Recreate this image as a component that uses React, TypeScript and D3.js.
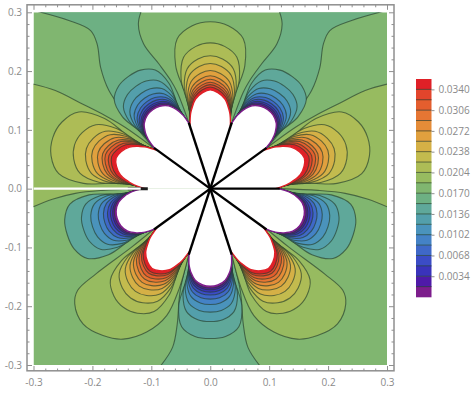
import React, { useEffect, useRef } from 'react';
import * as d3 from 'd3';

type Pt = [number, number];

// band colours, lowest to highest, one per 0.0017 step
const bandColors = [
  '#7d1d8c', '#4f1aa8', '#3a33bb', '#3b4cc6', '#3f68c8', '#4482c6', '#4a93bc',
  '#539fab', '#5fa89a', '#6db083', '#80b670', '#97bb60', '#adbc56', '#c3bb4e',
  '#d5b046', '#e0a03e', '#e58c38', '#e67633', '#e45e2e', '#e2452c', '#df2027',
];
const levelStep = 0.0017;
const colorbarTicks = [0.034, 0.0306, 0.0272, 0.0238, 0.0204, 0.017, 0.0136, 0.0102, 0.0068, 0.0034];
const majorTicks = [-0.3, -0.2, -0.1, 0, 0.1, 0.2, 0.3];
const minorTicks = [-0.28, -0.26, -0.24, -0.22, -0.18, -0.16, -0.14, -0.12, -0.08, -0.06, -0.04, -0.02,
  0.02, 0.04, 0.06, 0.08, 0.12, 0.14, 0.16, 0.18, 0.22, 0.24, 0.26, 0.28];

// lobe directions in degrees
const topRedLobe = [90];
const sideRedLobes = [18, 162];
const lowerRedLobes = [-54, -126];
const upperBlueLobes = [54, 126];
const lowerBlueLobes = [-18, -90, -162];
const spokeAngles = [72, 36, 0, -36, -72, -108, -144, 144, 108];

// contour radius along the lobe axis, one per level
const topRedRadii = [0.284, 0.248, 0.226, 0.213, 0.201, 0.192, 0.186, 0.181, 0.177, 0.173]; // from band 11
const sideRedRadii = [0.281, 0.242, 0.221, 0.21, 0.2, 0.192, 0.187, 0.181, 0.176]; // from band 12
const lowerRedRadii = [0.25, 0.23, 0.216, 0.205, 0.197, 0.19, 0.184, 0.178, 0.174]; // from band 12
const upperBlueRadii = [0.236, 0.215, 0.2, 0.19, 0.183, 0.178, 0.174, 0.171, 0.168]; // from band 8 down
const lowerBlueRadii = [0.255, 0.226, 0.21, 0.197, 0.188, 0.181, 0.176, 0.172, 0.169]; // from band 8 down

// half a white hole from tip to cusp: degrees off axis, fraction of the tip radius
const holeAngle = [0, 4.5, 9.3, 13, 14.5, 15.8, 18];
const redHoleFraction = [1, 0.975, 0.918, 0.83, 0.79, 0.745, 0.66];
const blueHoleFraction = [1, 0.99, 0.95, 0.88, 0.84, 0.8, 0.7];
// how far a contour stands off the hole at those points, per unit of tip distance
const gapAngle = [0, 15.5, 26.7, 23, 6, -18, 0];
const gapRadius = [1, 0.993, 0.922, 0.672, 0.42, 0.218, 0];
const redHoleRadius = 0.168;
const blueHoleRadius = 0.166;

// open contours on the right half, the left half mirrors them
const lineCusp72: Pt[] = [[0.037, 0.114], [0.056, 0.164], [0.067, 0.184], [0.087, 0.212], [0.113, 0.246], [0.122, 0.28], [0.116, 0.305]];
const lineCusp36: Pt[] = [[0.097, 0.07], [0.144, 0.127], [0.172, 0.167], [0.186, 0.206], [0.192, 0.246], [0.203, 0.269], [0.24, 0.286], [0.295, 0.302]];
const sideUpper: Pt[] = [[0.097, 0.07], [0.144, 0.104], [0.178, 0.124], [0.217, 0.144], [0.263, 0.167], [0.305, 0.179]];
const sideLower: Pt[] = [[0.12, 0], [0.183, -0.003], [0.229, -0.008], [0.268, -0.018], [0.305, -0.033]];
const lineBottom: Pt[] = [[0.037, -0.114], [0.05, -0.168], [0.053, -0.19], [0.056, -0.23], [0.064, -0.27], [0.087, -0.305]];
const lowerLoop: Pt[] = [[0.097, -0.07], [0.134, -0.1], [0.194, -0.145], [0.225, -0.173], [0.23, -0.196], [0.216, -0.23],
  [0.182, -0.25], [0.148, -0.256], [0.108, -0.244], [0.074, -0.216], [0.052, -0.168], [0.037, -0.114]];

const lineColor = 'rgba(38,62,44,0.66)';

export default function App() {
  const ref = useRef<SVGSVGElement | null>(null);

  useEffect(() => {
    const svg = d3.select(ref.current);
    svg.selectAll('*').remove();

    const x = d3.scaleLinear().domain([-0.3, 0.3]).range([33.5, 387]);
    const y = d3.scaleLinear().domain([-0.3, 0.3]).range([365, 12.3]);
    const smooth = d3.line<Pt>().x(d => x(d[0])).y(d => y(d[1])).curve(d3.curveCatmullRom.alpha(0.5));

    svg.append('clipPath').attr('id', 'plot-clip').append('rect')
      .attr('x', x(-0.3)).attr('y', y(0.3)).attr('width', x(0.3) - x(-0.3)).attr('height', y(-0.3) - y(0.3));

    const plot = svg.append('g').attr('clip-path', 'url(#plot-clip)');
    plot.append('rect')
      .attr('x', x(-0.3)).attr('y', y(0.3)).attr('width', x(0.3) - x(-0.3)).attr('height', y(-0.3) - y(0.3))
      .attr('fill', bandColors[10]);

    const mirror = (pts: Pt[]): Pt[] => pts.map(p => [-p[0], p[1]] as Pt);

    // region between two open contours, closed outside the frame
    const region = (a: Pt[], b: Pt[], band: number) => {
      const back = smooth([...b].reverse()) as string;
      plot.append('path')
        .attr('d', `${smooth(a)}L${back.slice(1)}Z`)
        .attr('fill', bandColors[band]);
      [a, b].forEach(c => plot.append('path').attr('d', smooth(c)).attr('fill', 'none')
        .attr('stroke', lineColor).attr('stroke-width', 1.1));
    };

    region(sideLower, sideUpper, 11);
    region(mirror(sideLower), mirror(sideUpper), 11);
    region(lineCusp72, lineCusp36, 9);
    region(mirror(lineCusp72), mirror(lineCusp36), 9);
    region(lineBottom, mirror(lineBottom), 9);

    const polar = (axis: number, r: number, off: number): Pt => {
      const t = (axis + off) * Math.PI / 180;
      return [r * Math.cos(t), r * Math.sin(t)];
    };

    // a contour from one cusp round the tip to the other, standing `gap` off the hole
    const loopPoints = (axis: number, hole: number, fractions: number[], gap: number) => {
      const at = (i: number, sign: number) => polar(
        axis,
        hole * fractions[i] + gap * gapRadius[i],
        sign * (holeAngle[i] + gap * gapAngle[i]),
      );
      const pts: Pt[] = [];
      for (let i = holeAngle.length - 1; i > 0; i--) pts.push(at(i, -1));
      holeAngle.forEach((_, i) => pts.push(at(i, 1)));
      return pts;
    };

    const drawLoop = (pts: Pt[], band: number) => {
      plot.append('path').attr('d', `${smooth(pts)}Z`)
        .attr('fill', bandColors[band]).attr('stroke', lineColor).attr('stroke-width', 1.1);
    };

    const redSet = (axes: number[], radii: number[], firstBand: number) => axes.forEach(axis =>
      radii.forEach((r, i) => drawLoop(loopPoints(axis, redHoleRadius, redHoleFraction, r - redHoleRadius), firstBand + i)));
    const blueSet = (axes: number[], radii: number[]) => axes.forEach(axis =>
      radii.forEach((r, i) => drawLoop(loopPoints(axis, blueHoleRadius, blueHoleFraction, r - blueHoleRadius), 8 - i)));

    redSet(topRedLobe, topRedRadii, 11);
    redSet(sideRedLobes, sideRedRadii, 12);
    drawLoop(lowerLoop, 11);
    drawLoop(mirror(lowerLoop), 11);
    redSet(lowerRedLobes, lowerRedRadii, 12);
    blueSet(upperBlueLobes, upperBlueRadii);
    blueSet(lowerBlueLobes, lowerBlueRadii);

    // white holes where the values leave the colour range
    const hole = (axis: number, r: number, fractions: number[], edge: string) => {
      const arc = smooth(loopPoints(axis, r, fractions, 0)) as string;
      plot.append('path').attr('d', `M${x(0)},${y(0)}L${arc.slice(1)}Z`).attr('fill', '#fff');
      plot.append('path').attr('d', arc).attr('fill', 'none').attr('stroke', edge).attr('stroke-width', 1.4);
    };
    [...topRedLobe, ...sideRedLobes, ...lowerRedLobes].forEach(a => hole(a, redHoleRadius, redHoleFraction, bandColors[20]));
    [...upperBlueLobes, ...lowerBlueLobes].forEach(a => hole(a, blueHoleRadius, blueHoleFraction, bandColors[0]));

    // spokes where all the contours crowd together
    spokeAngles.forEach(a => {
      const end = polar(a, 0.118, 0);
      plot.append('line')
        .attr('x1', x(0)).attr('y1', y(0)).attr('x2', x(end[0])).attr('y2', y(end[1]))
        .attr('stroke', '#000').attr('stroke-width', 2.4);
    });
    // branch cut on the negative x axis: dark where it meets the holes, white beyond
    plot.append('line')
      .attr('x1', x(-0.14)).attr('y1', y(0)).attr('x2', x(-0.106)).attr('y2', y(0))
      .attr('stroke', '#1c1c1c').attr('stroke-width', 3);
    plot.append('line')
      .attr('x1', x(-0.3)).attr('y1', y(0)).attr('x2', x(-0.118)).attr('y2', y(0))
      .attr('stroke', '#fff').attr('stroke-width', 2.2);

    // frame and ticks
    const frame = svg.append('g');
    frame.append('rect').attr('x', 27).attr('y', 4.8).attr('width', 367).attr('height', 366)
      .attr('fill', 'none').attr('stroke', '#8f8f8f').attr('stroke-width', 1.5);

    const style = (g: d3.Selection<SVGGElement, unknown, null, undefined>) => {
      g.select('.domain').remove();
      g.selectAll('line').attr('stroke', '#8f8f8f').attr('stroke-width', 1);
      g.selectAll('text').attr('fill', '#8a8a8a').attr('font-family', "'Open Sans', sans-serif").attr('font-size', 10);
    };
    const label = (d: d3.NumberValue) => (+d).toFixed(1);
    const sides: [(s: d3.ScaleLinear<number, number>) => d3.Axis<d3.NumberValue>, d3.ScaleLinear<number, number>, string, boolean][] = [
      [d3.axisBottom, x, 'translate(0,371)', true],
      [d3.axisTop, x, 'translate(0,4.8)', false],
      [d3.axisLeft, y, 'translate(27,0)', true],
      [d3.axisRight, y, 'translate(394,0)', false],
    ];
    sides.forEach(([make, scale, at, labelled]) => {
      frame.append('g').attr('transform', at)
        .call(make(scale).tickValues(minorTicks).tickSize(-2.5).tickFormat(() => ''))
        .call(style);
      const major = frame.append('g').attr('transform', at)
        .call(make(scale).tickValues(majorTicks).tickSize(-5).tickPadding(8)
          .tickFormat(labelled ? label : () => ''))
        .call(style);
      major.selectAll('text').attr('dx', at === 'translate(27,0)' ? '3' : '0');
    });

    // colour bar
    const barY = d3.scaleLinear().domain([0, bandColors.length * levelStep]).range([297, 79]);
    const bar = svg.append('g');
    bar.selectAll('rect').data(bandColors).join('rect')
      .attr('x', 416).attr('width', 15.5)
      .attr('y', (_, i) => barY((i + 1) * levelStep))
      .attr('height', (_, i) => barY(i * levelStep) - barY((i + 1) * levelStep) + 0.3)
      .attr('fill', d => d);
    bar.selectAll('line.level').data(d3.range(1, bandColors.length)).join('line')
      .attr('class', 'level')
      .attr('x1', 416).attr('x2', 431.5)
      .attr('y1', d => barY(d * levelStep)).attr('y2', d => barY(d * levelStep))
      .attr('stroke', lineColor).attr('stroke-width', 1);
    bar.append('g').attr('transform', 'translate(431.5,0)')
      .call(d3.axisRight(barY).tickValues(colorbarTicks).tickSize(3).tickPadding(4).tickFormat(d => (+d).toFixed(4)))
      .call(style);
  }, []);

  return <svg ref={ref} width={474} height={400} style={{ position: 'absolute', left: 0, top: 0 }} />;
}
